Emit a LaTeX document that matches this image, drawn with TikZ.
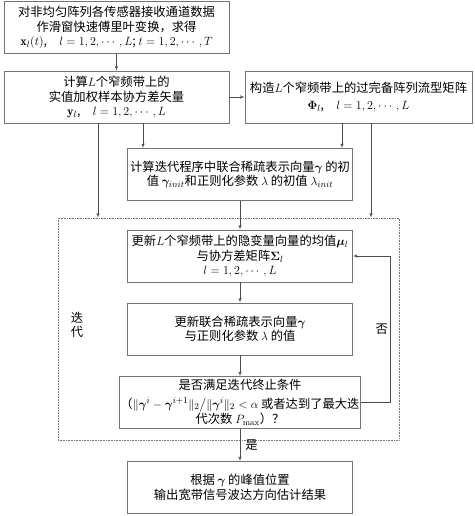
\documentclass[tikz,border=0pt]{standalone}
\usepackage{fontspec}
\usepackage{amsmath,bm}
\usetikzlibrary{shapes,arrows}
\newfontfamily\cjk{Noto Sans CJK SC}
\definecolor{boxgray}{gray}{0.45}
\definecolor{linegray}{gray}{0.3}
\tikzstyle{block} = [rectangle, draw=boxgray, line width=0.6pt, fill=white,
    align=center, minimum width=225pt, minimum height=52pt, inner sep=1pt,
    font=\cjk\fontsize{12.3}{14.5}\selectfont]
\tikzstyle{loopbox} = [rectangle, draw=boxgray, densely dotted, line width=0.6pt,
    minimum width=341pt, minimum height=222pt, inner sep=0pt]
\tikzstyle{tag} = [font=\cjk\fontsize{12.3}{14}\selectfont, inner sep=2pt]
\tikzstyle{line} = [draw=linegray, line width=0.6pt, -latex']

\begin{document}
\begin{tikzpicture}[x=1pt,y=1pt]
      \useasboundingbox (0,0) rectangle (474,-516);
      \node [loopbox] (iter) at (228.5,-329) {};
      \node [tag, align=center] (itername) at (77,-325) {迭\\代};

      \node [block] (fft) at (116.5,-27.5)
         {对非均匀阵列各传感器接收通道数据\\作滑窗快速傅里叶变换，求得\\
          $\mathbf{x}_l(t)$,\quad $l=1,2,\cdots,L$;\ $t=1,2,\cdots,T$};
      \node [block, below of=fft, node distance=69.5pt] (covar)
         {计算$L$个窄频带上的\\实值加权样本协方差矢量\\
          $\mathbf{y}_l$,\quad $l=1,2,\cdots,L$};
      \node [block, right of=covar, node distance=242pt, minimum width=227pt] (manifold)
         {构造$L$个窄频带上的过完备阵列流型矩阵\\[3pt]
          $\boldsymbol{\Phi}_l$,\quad $l=1,2,\cdots,L$};
      \node [block] (initval) at (240,-174.5)
         {计算迭代程序中联合稀疏表示向量$\boldsymbol{\gamma}$ 的初\\
          值 $\boldsymbol{\gamma}_{init}$和正则化参数 $\lambda$ 的初值 $\lambda_{init}$};
      \node [block, below of=initval, node distance=81.5pt] (update)
         {更新$L$个窄频带上的隐变量向量的均值$\boldsymbol{\mu}_l$\\
          与协方差矩阵$\boldsymbol{\Sigma}_l$\\$l=1,2,\cdots,L$};
      \node [block, below of=update, node distance=73pt] (refresh)
         {更新联合稀疏表示向量$\boldsymbol{\gamma}$\\与正则化参数 $\lambda$ 的值};
      \node [block, below of=refresh, node distance=73.5pt] (check)
         {是否满足迭代终止条件\\[4pt]
          （$\|\boldsymbol{\gamma}^i-\boldsymbol{\gamma}^{i+1}\|_2\big/
          \|\boldsymbol{\gamma}^i\|_2<\alpha$ 或者达到了最大迭\\
          代次数 $P_{\max}$）？};
      \node [block, below of=check, node distance=85pt] (output)
         {根据 $\boldsymbol{\gamma}$ 的峰值位置\\输出宽带信号波达方向估计结果};

      \path [line] (fft) -- (covar);
      \path [line] (covar) -- (manifold);
      \path [line] ([xshift=26.5pt]covar.south) -- ([xshift=26.5pt]covar.south |- initval.north);
      \path [line] ([xshift=-18.5pt]covar.south) -- ([xshift=-18.5pt]covar.south |- iter.north);
      \path [line] ([xshift=-16.5pt]manifold.south) -- ([xshift=-16.5pt]manifold.south |- initval.north);
      \path [line] ([xshift=12.5pt]manifold.south) -- ([xshift=12.5pt]manifold.south |- iter.north);
      \path [line] (initval) -- (update);
      \path [line] (update) -- (refresh);
      \path [line] (refresh) -- (check);
      \path [line] (check) -- node [tag, right, xshift=3pt] {是} (output);
      \path [line] (check.east) -- ++(29.5pt,0) |- node [tag, left, pos=0.25] {否} (update.east);
   \end{tikzpicture}
\end{document}
